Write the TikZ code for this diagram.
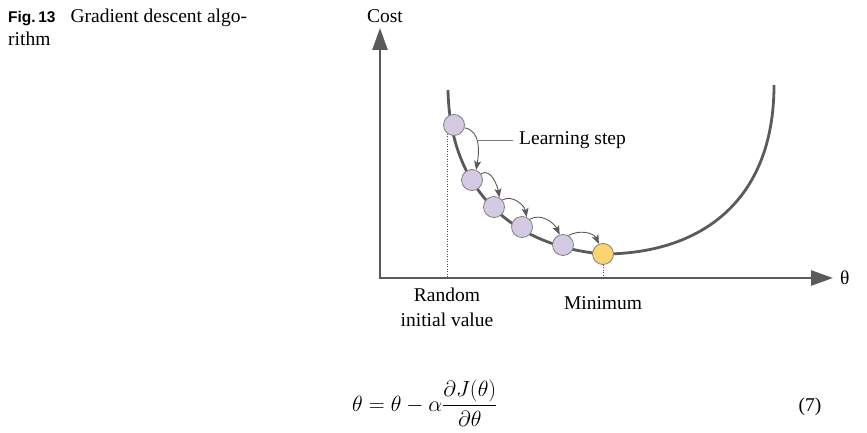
\RequirePackage{fix-cm}
\documentclass[tikz,border=0pt]{standalone}
\usepackage{amsmath}
\usepackage{fontspec}
\setmainfont{Liberation Serif}
\newfontfamily\capfont{Liberation Sans}
\usetikzlibrary{arrows.meta,positioning}
\definecolor{axisgray}{HTML}{5A5A5A}
\definecolor{ballfill}{HTML}{D5CAE4}
\definecolor{minfill}{HTML}{FBD46E}
\definecolor{ballrim}{HTML}{808080}
\tikzset{
  axis/.style={draw=axisgray, line width=2.6pt, line cap=rect, -{Triangle[length=22pt,width=15pt]}},
  costcurve/.style={draw=axisgray, line width=2.8pt},
  ball/.style={circle, draw=ballrim, line width=0.8pt, fill=ballfill, minimum size=21pt, inner sep=0pt},
  minball/.style={ball, fill=minfill},
  stepar/.style={draw=axisgray, line width=0.9pt, -{Stealth[length=9pt,width=7pt,inset=2pt]}},
  guide/.style={draw=black!70, line width=0.8pt, dash pattern=on 1pt off 1.5pt},
  lbl/.style={font=\fontsize{19.5}{25}\selectfont, inner sep=0pt, align=center},
}

\begin{document}
\begin{tikzpicture}[x=1pt,y=1pt]
  \useasboundingbox (0,0) rectangle (867,432);
  % caption
  \node[lbl, anchor=base west] (cap1) at (8,409)
    {{\capfont\bfseries\fontsize{15.5}{23}\selectfont Fig.\,13}\hspace{15pt}Gradient descent algo-};
  \node[lbl, anchor=base west] (cap2) at ([yshift=-23pt]cap1.base west) {rithm};
  % axes
  \coordinate (O) at (380,154);
  \coordinate (ytip) at (380,404);
  \coordinate (xtip) at (833,154);
  \draw[axis] (O) -- (ytip);
  \draw[axis] (O) -- (xtip);
  \node[lbl] (cost) at (385,416) {Cost};
  \node[lbl, anchor=west] (theta) at (840,154) {θ};
  % cost function
  \draw[costcurve] (448,342) .. controls (450,235) and (520,185) .. (603,178)
    .. controls (700,178) and (774,230) .. (774,347);
  \foreach \n/\p in {1/{454,307},2/{472,252},3/{494,225},4/{522,205},5/{563,187}} {
    \node[ball] (b\n) at (\p) {};
  }
  \node[minball] (bm) at (603,178) {};
  % guides and labels
  \draw[guide] (b1.235) -- (b1.235 |- O);
  \draw[guide] (bm.south) -- (bm.south |- O);
  \node[lbl] (rand) at (447,124.5) {Random\\initial value};
  \node[lbl] (minlbl) at (603,129) {Minimum};
  % learning steps
  \draw[stepar] (b1.-15) to[out=-10,in=80] (b2.68);
  \draw[stepar] (b2.35) to[out=30,in=100] (b3.60);
  \draw[stepar] (b3.40) to[out=30,in=100] (b4.65);
  \draw[stepar] (b4.45) to[out=30,in=115] (b5.108);
  \draw[stepar] (b5.60) to[out=30,in=115] (bm.112);
  \node[lbl, anchor=west, inner sep=6pt] (step) at (513,292) {Learning step};
  \coordinate (stepend) at (478,292);
  \draw[draw=axisgray!80, line width=0.8pt] (step.west) -- (stepend);
  % update rule
  \node[lbl, font=\fontsize{22}{26}\selectfont, anchor=base west] (eq) at (352,21)
    {$\theta = \theta - \alpha \dfrac{\partial J(\theta)}{\partial \theta}$};
  \node[lbl, anchor=base] (eqno) at (810,21) {(7)};
\end{tikzpicture}
\end{document}
